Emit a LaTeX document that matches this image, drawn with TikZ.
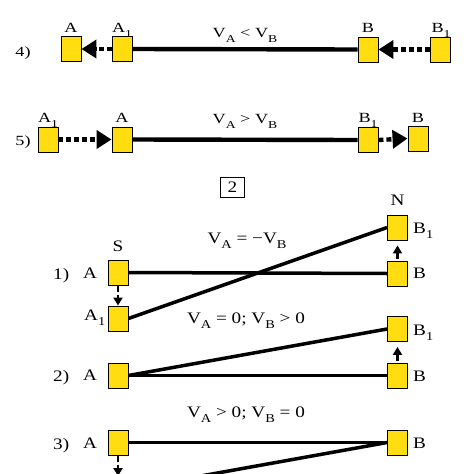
\documentclass[tikz,border=0pt]{standalone}
\usepackage{fontspec}
\setmainfont{Liberation Serif}
\newfontfamily\fonta[FakeStretch=1.3]{Liberation Serif}
\newfontfamily\fontb[FakeStretch=1.2]{Liberation Serif}
\usetikzlibrary{arrows.meta}
\definecolor{yel}{RGB}{255,221,17}
\newcommand\sbs[1]{\raisebox{-0.36em}{\scalebox{0.75}{#1}}}
\begin{document}
\begin{tikzpicture}[x=1pt,y=-1pt,
  sq/.style={draw=black, line width=0.9pt, fill=yel, minimum width=20pt, minimum height=25pt, inner sep=0pt},
  fa/.style={font=\fonta\fontsize{14}{16}\selectfont, inner sep=0pt},
  fb/.style={font=\fontb\fontsize{16}{18}\selectfont, inner sep=0pt},
  thickline/.style={line width=4.4pt},
  bigdash/.style={line width=4.4pt, dash pattern=on 5pt off 3pt, -{Triangle[length=15pt,width=18pt]}},
  medline/.style={line width=3.5pt},
  smalldash/.style={line width=2.2pt, dash pattern=on 7pt off 3pt, -{Triangle[length=8pt,width=9pt]}},
  smallarr/.style={line width=2.6pt, -{Triangle[length=8pt,width=9pt]}, shorten >=5pt, shorten <=2pt},
]
\useasboundingbox (0,0) rectangle (474,474);
\clip (0,0) rectangle (474,474);
% ---- row 4
\node[sq] (a4) at (71,49) {};
\node[sq] (a14) at (122,49) {};
\node[sq] (b4) at (368,49.5) {};
\node[sq] (b14) at (440.5,49.5) {};
\node[fa, anchor=base] (la4) at (71,32) {A};
\node[fa, anchor=base] (la14) at (122,32) {A\sbs{1}};
\node[fa, anchor=base] (lb4) at (368,32) {B};
\node[fa, anchor=base] (lb14) at (441,32) {B\sbs{1}};
\node[fa, anchor=base] (n4) at (23,56) {4)};
\node[fa, anchor=base] (t4) at (245,37) {V\sbs{A} < V\sbs{B}};
\draw[thickline] (a14.east) -- (b4.west);
\draw[bigdash] (a14.west) -- (a4.east);
\draw[bigdash] (b14.west) -- (b4.east);
% ---- row 5
\node[sq] (a15) at (48,139.5) {};
\node[sq] (a5) at (122,139.5) {};
\node[sq] (b15) at (368,140) {};
\node[sq] (b5) at (418,138.5) {};
\node[fa, anchor=base] (la15) at (48,122) {A\sbs{1}};
\node[fa, anchor=base] (la5) at (122,122) {A};
\node[fa, anchor=base] (lb15) at (368,122) {B\sbs{1}};
\node[fa, anchor=base] (lb5) at (418,122) {B};
\node[fa, anchor=base] (n5) at (23,145) {5)};
\node[fa, anchor=base] (t5) at (245,123) {V\sbs{A} > V\sbs{B}};
\draw[thickline] (a5.east) -- (b15.west);
\draw[bigdash] (a15.east) -- (a5.west);
\draw[bigdash] (b15.east) -- (b5.west);
% ---- box 2
\node[draw, line width=0.8pt, fb, minimum width=24pt, minimum height=20pt] (box) at (232.5,187.5) {2};
% ---- section 2 row 1
\node[sq] (a1) at (118,272.5) {};
\node[sq] (a11) at (118,318.5) {};
\node[sq] (b1) at (397.5,273.5) {};
\node[sq] (b11) at (397.5,227.5) {};
\node[fb, anchor=base] (ls) at (118,251) {S};
\node[fb, anchor=base] (ln) at (397.5,205) {N};
\node[fb, anchor=base west] (la1) at (83,278) {A};
\node[fb, anchor=base west] (la11) at (84,320) {A\sbs{1}};
\node[fb, anchor=base west] (n1) at (53,279) {1)};
\node[fb, anchor=base west] (lb1) at (413,278) {B};
\node[fb, anchor=base west] (lb11) at (413,233) {B\sbs{1}};
\node[fb, anchor=base] (t1) at (247,243) {V\sbs{A} = −V\sbs{B}};
\draw[medline] (a1.east) -- (b1.west);
\draw[medline] (a11.east) -- (b11.west);
\draw[smalldash] (a1.south) -- (a11.north);
\draw[smallarr] (b1.north) -- (b11.south);
% ---- row 2
\node[sq] (a2) at (118,375.5) {};
\node[sq] (b2) at (397.5,375.5) {};
\node[sq] (b12) at (397.5,329) {};
\node[fb, anchor=base west] (la2) at (83,380) {A};
\node[fb, anchor=base west] (n2) at (53,381) {2)};
\node[fb, anchor=base west] (lb2) at (413,381) {B};
\node[fb, anchor=base west] (lb12) at (413,335) {B\sbs{1}};
\node[fb, anchor=base] (t2) at (246,323) {V\sbs{A} = 0; V\sbs{B} > 0};
\draw[medline] (a2.east) -- (b2.west);
\draw[medline] (a2.east) -- (b12.west);
\draw[smallarr] (b2.north) -- (b12.south);
% ---- row 3
\node[sq] (a3) at (118,442.5) {};
\node[sq] (b3) at (397.5,442.5) {};
\node[sq] (a13) at (118,489) {};
\node[fb, anchor=base west] (la3) at (83,448) {A};
\node[fb, anchor=base west] (n3) at (53,449) {3)};
\node[fb, anchor=base west] (lb3) at (413,448) {B};
\node[fb, anchor=base] (t3) at (246,417) {V\sbs{A} > 0; V\sbs{B} = 0};
\draw[medline] (a3.east) -- (b3.west);
\draw[medline] (b3.west) -- (a13.east);
\draw[smalldash] (a3.south) -- (a13.north);
\end{tikzpicture}
\end{document}
